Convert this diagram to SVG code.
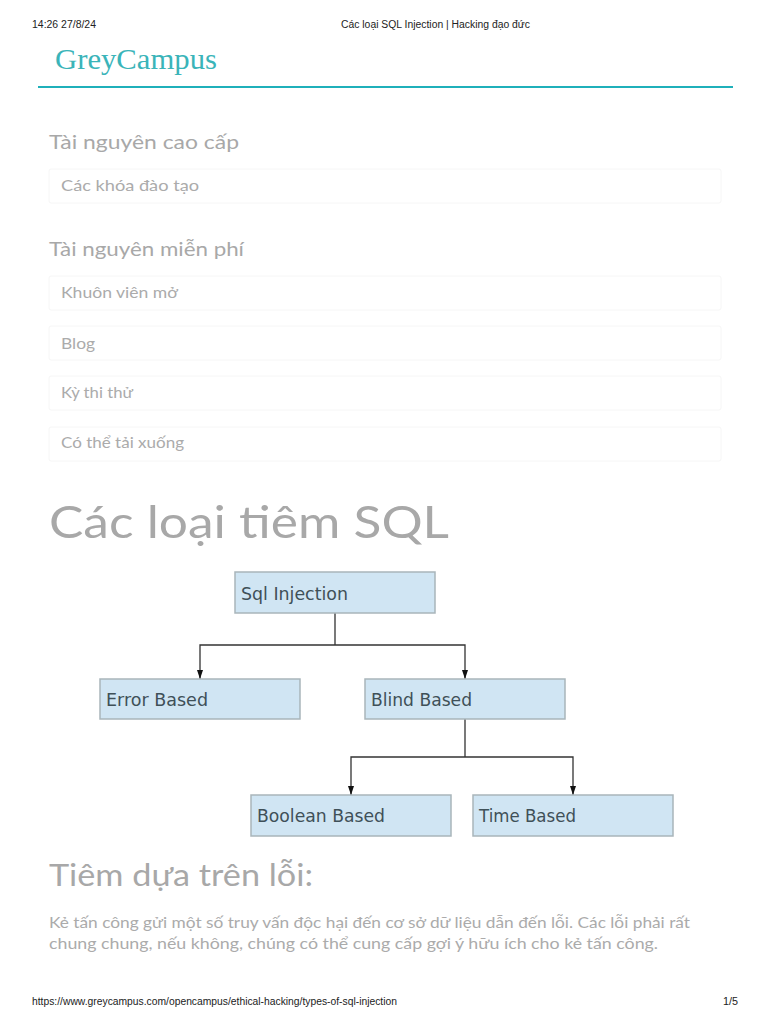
<svg xmlns="http://www.w3.org/2000/svg" width="768" height="1024" viewBox="0 0 768 1024">
<style>
.pr{font-family:"Liberation Sans",Arial,sans-serif;font-size:10px;fill:#222}
.h{font-family:"Lato","Noto Sans",sans-serif;font-weight:400;fill:#a8a8a8}
.it{font-family:"Lato","Noto Sans",sans-serif;font-weight:400;font-size:15px;fill:#ababab}
.card{fill:#fff;stroke:#f6f6f6;stroke-width:1}
.node rect{fill:#d0e5f3;stroke:#a9b5ba;stroke-width:1.5}
.node text{font-family:"DejaVu Sans",sans-serif;font-size:17px;fill:#3f5058}
.c{fill:none;stroke:#333;stroke-width:1.3}
</style>
<defs><marker id="a" markerUnits="userSpaceOnUse" markerWidth="10" markerHeight="8" refX="9" refY="4" orient="auto"><path d="M0 1L9 4L0 7Z" fill="#111"/></marker></defs>
<rect width="768" height="1024" fill="#fff"/>
<text class="pr" x="32" y="28" textLength="64" lengthAdjust="spacingAndGlyphs">14:26 27/8/24</text>
<text class="pr" x="341" y="28" textLength="189" lengthAdjust="spacingAndGlyphs">Các loại SQL Injection | Hacking đạo đức</text>
<text x="55" y="69" font-family="Liberation Serif,serif" font-size="30" fill="#3ab4b9" textLength="162" lengthAdjust="spacingAndGlyphs">GreyCampus</text>
<rect x="38" y="86" width="695" height="2" fill="#1fb0ba"/>
<text class="h" x="49" y="149" font-size="20" textLength="190" lengthAdjust="spacingAndGlyphs">Tài nguyên cao cấp</text>
<rect class="card" x="49" y="169" width="672" height="34" rx="2"/>
<text class="it" x="61" y="191" textLength="138" lengthAdjust="spacingAndGlyphs">Các khóa đào tạo</text>
<text class="h" x="49" y="256" font-size="20" textLength="195" lengthAdjust="spacingAndGlyphs">Tài nguyên miễn phí</text>
<rect class="card" x="49" y="276" width="672" height="34" rx="2"/>
<text class="it" x="61" y="298" textLength="117" lengthAdjust="spacingAndGlyphs">Khuôn viên mở</text>
<rect class="card" x="49" y="326" width="672" height="34" rx="2"/>
<text class="it" x="61" y="349" textLength="34" lengthAdjust="spacingAndGlyphs">Blog</text>
<rect class="card" x="49" y="376" width="672" height="34" rx="2"/>
<text class="it" x="61" y="398" textLength="72" lengthAdjust="spacingAndGlyphs">Kỳ thi thử</text>
<rect class="card" x="49" y="427" width="672" height="34" rx="2"/>
<text class="it" x="61" y="448" textLength="123" lengthAdjust="spacingAndGlyphs">Có thể tải xuống</text>
<text class="h" x="49" y="538" font-size="45" textLength="400" lengthAdjust="spacingAndGlyphs">Các loại tiêm SQL</text>
<g id="connectors">
<path class="c" d="M335 613V645M335 645H200V679" marker-end="url(#a)"/>
<path class="c" d="M335 645H465V679" marker-end="url(#a)"/>
<path class="c" d="M465 719V757M465 757H351V795" marker-end="url(#a)"/>
<path class="c" d="M465 757H573V795" marker-end="url(#a)"/>
</g>
<g id="n-sql" class="node"><rect x="235" y="572" width="200" height="41"/><text x="241" y="600" textLength="107" lengthAdjust="spacingAndGlyphs">Sql Injection</text></g>
<g id="n-error" class="node"><rect x="100" y="679" width="200" height="40"/><text x="106" y="706" textLength="102" lengthAdjust="spacingAndGlyphs">Error Based</text></g>
<g id="n-blind" class="node"><rect x="365" y="679" width="200" height="40"/><text x="371" y="706" textLength="101" lengthAdjust="spacingAndGlyphs">Blind Based</text></g>
<g id="n-boolean" class="node"><rect x="251" y="795" width="200" height="41"/><text x="257" y="822" textLength="128" lengthAdjust="spacingAndGlyphs">Boolean Based</text></g>
<g id="n-time" class="node"><rect x="473" y="795" width="200" height="41"/><text x="479" y="822" textLength="97" lengthAdjust="spacingAndGlyphs">Time Based</text></g>
<text class="h" x="49" y="886" font-size="30" textLength="264" lengthAdjust="spacingAndGlyphs">Tiêm dựa trên lỗi:</text>
<text class="it" x="49" y="928" textLength="641" lengthAdjust="spacingAndGlyphs">Kẻ tấn công gửi một số truy vấn độc hại đến cơ sở dữ liệu dẫn đến lỗi. Các lỗi phải rất</text>
<text class="it" x="49" y="949" textLength="609" lengthAdjust="spacingAndGlyphs">chung chung, nếu không, chúng có thể cung cấp gợi ý hữu ích cho kẻ tấn công.</text>
<text class="pr" x="32" y="1005" textLength="365" lengthAdjust="spacingAndGlyphs">https://www.greycampus.com/opencampus/ethical-hacking/types-of-sql-injection</text>
<text class="pr" x="723" y="1005" textLength="15" lengthAdjust="spacingAndGlyphs">1/5</text>
</svg>
